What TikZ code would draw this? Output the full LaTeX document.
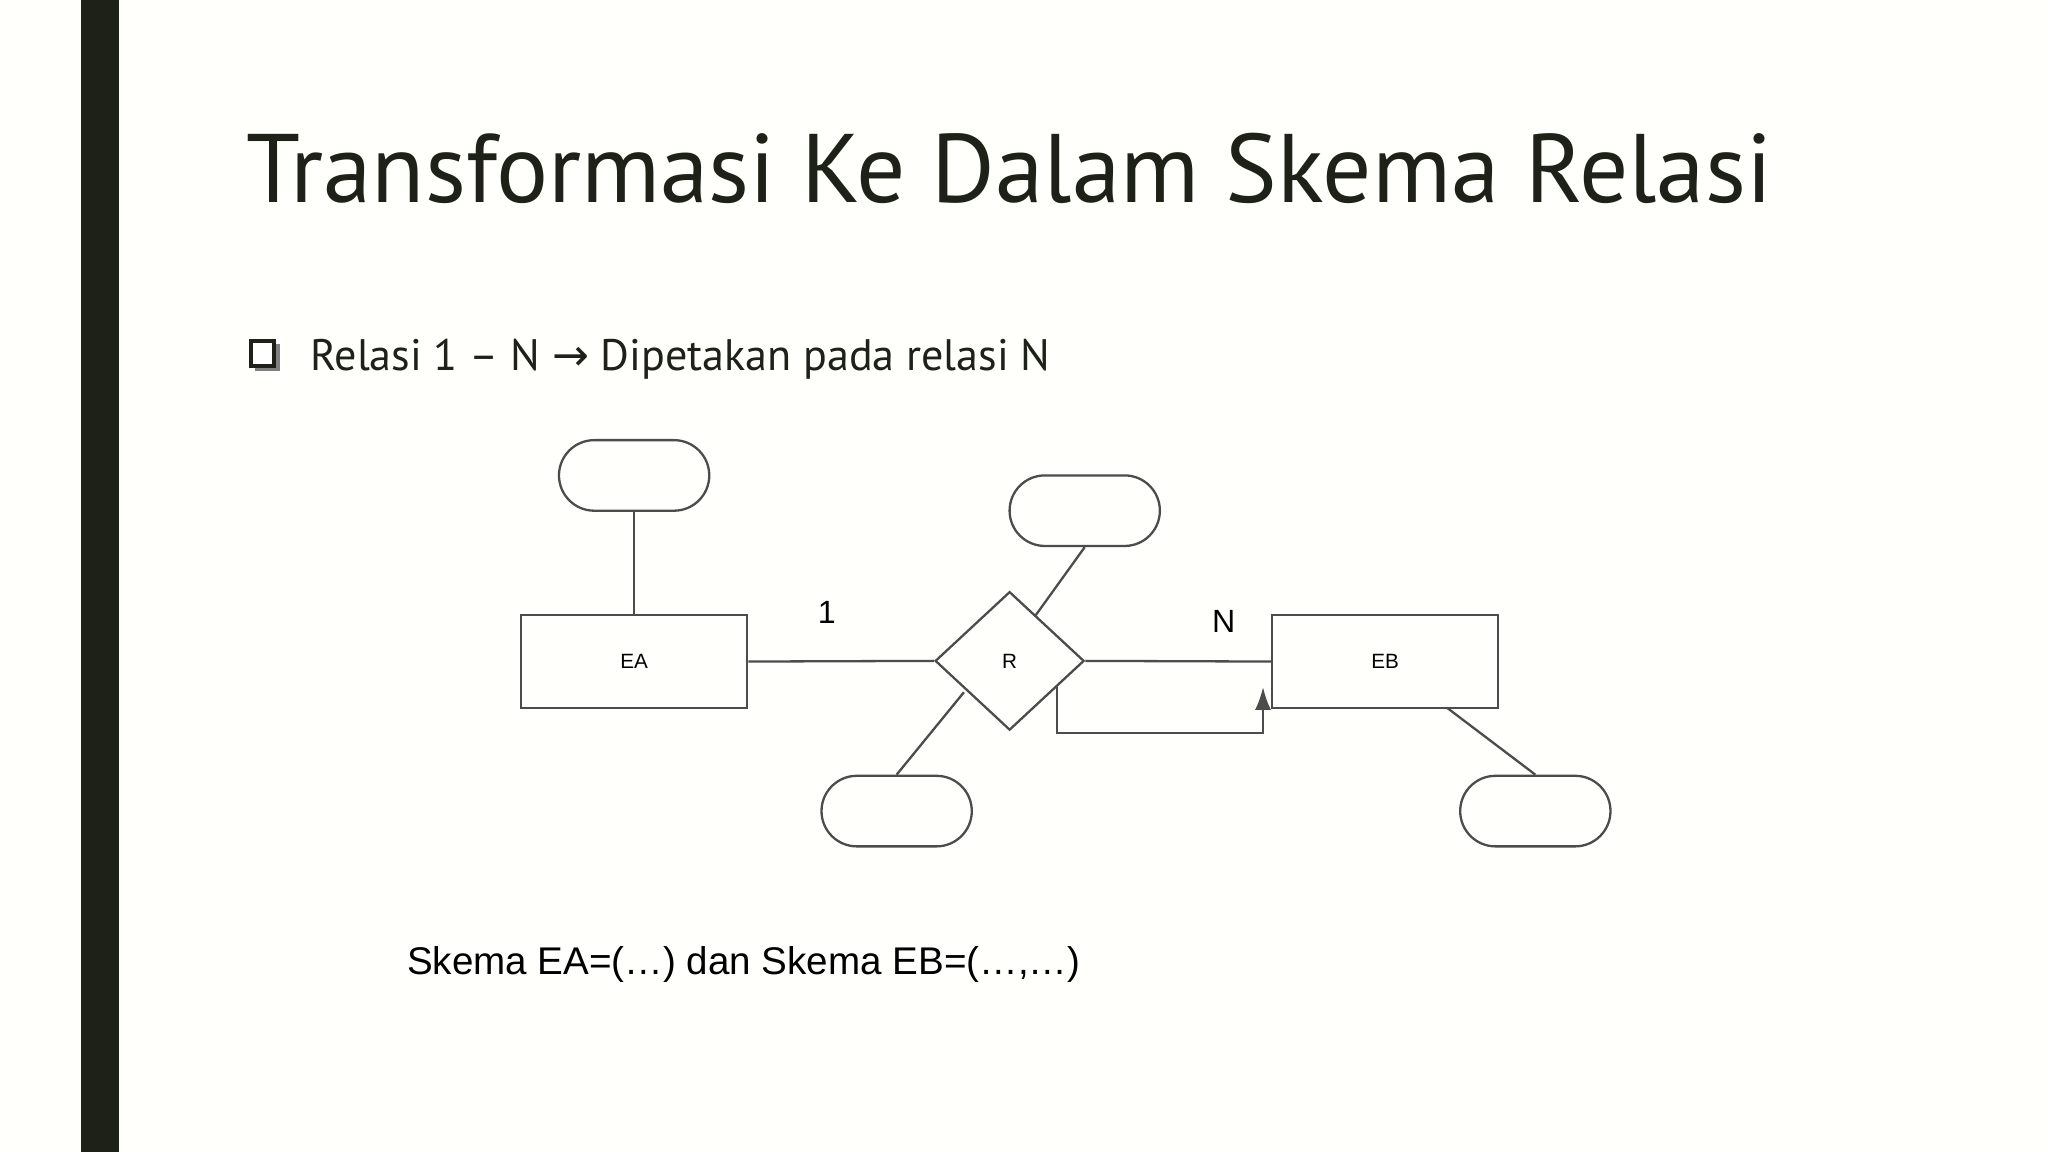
\documentclass[tikz,border=0pt]{standalone}
\usepackage{fontspec}
\setmainfont{PT Sans}
\newfontfamily\arialf{Liberation Sans}
\newfontfamily\djv{DejaVu Sans}
\usetikzlibrary{shapes.geometric,arrows.meta}
\definecolor{ink}{HTML}{1E2118}
\begin{document}
\begin{tikzpicture}[x=0.01cm,y=-0.01cm,
  ent/.style={draw=black!70,line width=0.5pt,minimum width=1.73cm,minimum height=0.71cm,inner sep=0,font=\arialf\fontsize{4.5}{5}\selectfont},
  attr/.style={draw=black!70,line width=0.5pt,rounded corners=0.27cm,minimum width=1.15cm,minimum height=0.54cm,inner sep=0},
  ln/.style={black!70,line width=0.5pt}]
\useasboundingbox (0,0) rectangle (1568,882);
\fill[white!98!yellow!50!white] (0,0) rectangle (1568,882);
\fill[ink] (62,0) rectangle (91,882);
\node[anchor=base west,inner sep=0,font=\fontsize{21.2}{25}\selectfont,text=ink] (title) at (188,155) {Transformasi Ke Dalam Skema Relasi};
\node[anchor=base west,inner sep=0,font=\fontsize{9.6}{12}\selectfont,text=ink] (bul) at (237,284) {Relasi 1 – N {\djv→} Dipetakan pada relasi N};
\fill[black!50] (195,263) rectangle (214,284);
\draw[ink,line width=0.9pt,fill=white] (192,261) rectangle (210,280);
\node[ent] (EA) at (485.5,506.5) {EA};
\node[ent] (EB) at (1060.5,506.5) {EB};
\node[draw=black!70,line width=0.5pt,diamond,minimum width=1.14cm,minimum height=1.06cm,inner sep=0,aspect=1.07,font=\arialf\fontsize{4.5}{5}\selectfont] (R) at (773,506) {R};
\node[attr] (a1) at (485.5,364) {};
\node[attr] (a2) at (830.5,391) {};
\node[attr] (a3) at (686.5,621) {};
\node[attr] (a4) at (1175.5,621) {};
\draw[ln] (a1.south) -- (EA.north);
\draw[ln] (EA.east) -- (R.west);
\draw[ln] (R.east) -- (EB.west);
\draw[ln] (a2.south) -- (793,471);
\draw[ln] (a3.north) -- (738,530);
\draw[ln] (1108,542) -- (a4.north);
\coordinate (s) at (809,526);
\coordinate (t) at (967,526);
\draw[ln,-{Latex[length=5pt,width=3.5pt]}] (s) -- (809,561) -- (967,561) -- (t);
\node[font=\arialf\fontsize{7}{8}\selectfont] (one) at (633,469) {1};
\node[font=\arialf\fontsize{7}{8}\selectfont] (nn) at (937,476) {N};
\node[anchor=base west,inner sep=0,font=\arialf\fontsize{8.4}{10}\selectfont] (sk) at (311,746) {Skema EA=(…) dan Skema EB=(…,…)};
\end{tikzpicture}
\end{document}
